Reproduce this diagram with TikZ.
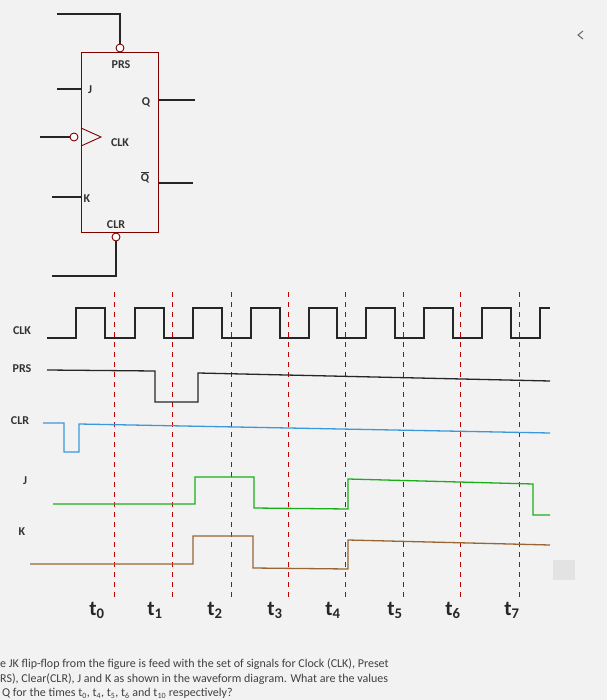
\documentclass[tikz,border=0pt]{standalone}
\usepackage{fontspec}
\setmainfont{Carlito}
\begin{document}
\begin{tikzpicture}[x=1pt,y=-1pt,
  wire/.style={line width=1.6pt,black!85},
  sig/.style={line width=1.3pt},
  lab/.style={font=\bfseries\fontsize{12}{14}\selectfont,text=black!80},
  bub/.style={circle,draw=red!50!black,fill=white,inner sep=0pt,minimum size=8pt,line width=0.9pt},
  grid/.style={red!75!black,dashed,line width=1pt,dash pattern=on 5pt off 5pt},
  tl/.style={font=\bfseries\fontsize{21}{22}\selectfont,text=black!85},
  para/.style={font=\fontsize{12}{13}\selectfont,text=black!75,anchor=west,inner sep=0pt}]
\fill[gray!10] (0,0) rectangle (607,700);
\useasboundingbox (0,0) rectangle (607,700);
\fill[gray!22] (553,560) rectangle (575,580);
\draw[black!60,line width=1pt] (583,31) -- (578,35) -- (583,39);
% flip-flop
\node[draw=red!50!black,line width=0.9pt,minimum width=77pt,minimum height=180pt,inner sep=0pt] (ff) at (120,142) {};
\node[bub] (pb) at (120,48) {};
\node[bub] (cb) at (116,237) {};
\node[bub] (kb) at (74,137) {};
\coordinate (p1) at (120,14); \coordinate (p0) at (57,14);
\coordinate (c1) at (116,276); \coordinate (c0) at (52,276);
\draw[wire] (pb.north) -- (p1) -- (p0);
\draw[wire] (cb.south) -- (c1) -- (c0);
\coordinate (ck0) at (40,137); \draw[wire] (ck0) -- (kb.west);
\draw[red!50!black,line width=0.9pt] (ff.west|-0,128) -- (101,137) -- (ff.west|-0,146);
\coordinate (j0) at (57,89); \draw[wire] (j0) -- (ff.west|-j0);
\coordinate (k0) at (52,197); \draw[wire] (k0) -- (ff.west|-k0);
\coordinate (q0) at (195,100); \draw[wire] (ff.east|-q0) -- (q0);
\coordinate (qb0) at (193,183); \draw[wire] (ff.east|-qb0) -- (qb0);
\node[lab] (lprs) at (121,65) {PRS};
\node[lab] (lj) at (90,90) {J};
\node[lab] (lq) at (146,102) {Q};
\node[lab] (lclk) at (120,143) {CLK};
\node[lab] (lqb) at (145,177) {$\overline{\mbox{Q}}$};
\node[lab] (lk) at (87,199) {K};
\node[lab] (lclr) at (116,225) {CLR};
% grid
\foreach \x [count=\n from 0] in {114,172,231,288,345,403,460,519}{
  \coordinate (g\n) at (\x,292);
  \draw[grid] (g\n) -- ++(0,308);
}
\foreach \x/\n in {97/0,155/1,215/2,275/3,333/4,395/5,453/6,512/7}
  \node[tl] (t\n) at (\x,610) {t\textsubscript{\n}};
% signals
\node[lab] (sclk) at (22,331) {CLK};
\node[lab] (sprs) at (22,369) {PRS};
\node[lab] (sclr) at (20,421) {CLR};
\node[lab] (sj) at (25,481) {J};
\node[lab] (sk) at (22,532) {K};
\draw[sig,black!85] (47,338) -- (76,338)
  \foreach \r/\f in {76/105,135/164,193/222,251/280,309/337,366/395,424/453,482/511}{
   -- (\r,338) -- (\r,308) -- (\f,308) -- (\f,338)} -- (540,338) -- (540,308) -- (550,308);
\draw[sig,black!85] (47,370) -- (155,371) -- (155,402) -- (198,402) -- (198,373) -- (550,381);
\draw[sig,cyan!70!blue!80] (43,423) -- (64,423) -- (64,452) -- (79,452) -- (79,424) -- (550,433);
\draw[sig,green!65!black!90] (53,504) -- (195,504) -- (195,477) -- (254,477) -- (254,508) -- (348,509) -- (348,479) -- (533,484) -- (533,515) -- (550,515);
\draw[sig,brown!80!black] (30,564) -- (193,564) -- (193,536) -- (253,536) -- (253,568) -- (348,569) -- (348,540) -- (550,545);
% text
\node[para] (l1) at (0,664) {e JK flip-flop from the figure is feed with the set of signals for Clock (CLK), Preset};
\node[para] (l2) at (0,679) {RS), Clear(CLR), J and K as shown in the waveform diagram. What are the values};
\node[para] (l3) at (2,693) {Q for the times t\textsubscript{0}, t\textsubscript{4}, t\textsubscript{5}, t\textsubscript{6} and t\textsubscript{10} respectively?};
\end{tikzpicture}
\end{document}
